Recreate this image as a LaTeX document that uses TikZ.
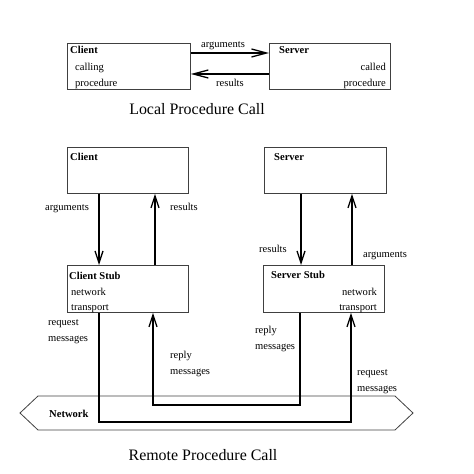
\documentclass[tikz,border=0pt]{standalone}
\usepackage{fontspec}
\setmainfont{Liberation Serif}
\usetikzlibrary{arrows.meta}
\begin{document}
\begin{tikzpicture}[x=1bp,y=-1bp,
  box/.style={draw=black!75, line width=0.8bp, inner sep=0, anchor=north west},
  arr/.style={line width=1.3bp, -{Straight Barb[length=12bp,width=8bp,line width=1.3bp]}},
  larr/.style={line width=1.3bp, -{Straight Barb[length=15bp,width=8bp,line width=1.3bp]}},
  lbl/.style={font=\fontsize{10.6}{12}\selectfont, inner sep=0},
  bl/.style={font=\fontsize{10.6}{12}\selectfont\bfseries, inner sep=0},
  captiontext/.style={font=\fontsize{16}{19}\selectfont, inner sep=0}]
\useasboundingbox (0,0) rectangle (474,474);
% ---------- Local procedure call ----------
\node[box, minimum width=123bp, minimum height=46bp] (lc) at (67,43) {};
\node[box, minimum width=121bp, minimum height=46bp] (ls) at (269,43) {};
\node[bl, anchor=base west] (lct) at (70,54) {Client};
\node[lbl, anchor=base west] (lc1) at (75,71) {calling};
\node[lbl, anchor=base west] (lc2) at (75,87) {procedure};
\node[bl, anchor=base west] (lst) at (279,54) {Server};
\node[lbl, anchor=base east] (ls1) at (386,71) {called};
\node[lbl, anchor=base east] (ls2) at (386,87) {procedure};
\coordinate (la) at (0,53);
\coordinate (lr) at (0,74);
\draw[larr] (lc.east |- la) -- (ls.west |- la);
\draw[larr] (ls.west |- lr) -- (lc.east |- lr);
\node[lbl, anchor=base] (lat) at (223,48) {arguments};
\node[lbl, anchor=base] (lrt) at (230,87) {results};
\node[captiontext, anchor=base] (lcap) at (197,115) {Local Procedure Call};
% ---------- Remote procedure call ----------
\node[box, minimum width=121bp, minimum height=46bp] (rc) at (67,147) {};
\node[box, minimum width=122bp, minimum height=46bp] (rs) at (264,147) {};
\node[box, minimum width=121bp, minimum height=47bp] (cs) at (67,265) {};
\node[box, minimum width=121bp, minimum height=47bp] (ss) at (263,265) {};
\node[bl, anchor=base west] (rct) at (70,161) {Client};
\node[bl, anchor=base west] (rst) at (274,161) {Server};
\node[bl, anchor=base west] (cst) at (69,279) {Client Stub};
\node[lbl, anchor=base west] (cs1) at (71,295) {network};
\node[lbl, anchor=base west] (cs2) at (71,310) {transport};
\node[bl, anchor=base west] (sst) at (271,278) {Server Stub};
\node[lbl, anchor=base east] (ss1) at (377,295) {network};
\node[lbl, anchor=base east] (ss2) at (377,310) {transport};
% client side vertical arrows
\coordinate (ca) at (99,0);
\coordinate (cr) at (155,0);
\draw[arr] (rc.south -| ca) -- (cs.north -| ca);
\draw[arr] (cs.north -| cr) -- (rc.south -| cr);
\node[lbl, anchor=base] (cat) at (67,211) {arguments};
\node[lbl, anchor=base] (crt) at (184,211) {results};
% server side vertical arrows
\coordinate (sr) at (301,0);
\coordinate (sa) at (352,0);
\draw[arr] (rs.south -| sr) -- (ss.north -| sr);
\draw[arr] (ss.north -| sa) -- (rs.south -| sa);
\node[lbl, anchor=base] (srt) at (273,252) {results};
\node[lbl, anchor=base] (sat) at (385,257) {arguments};
% network
\draw[draw=black!75, line width=0.8bp] (20,413) -- (38,396) -- (395,396) -- (413,413) -- (395,430) -- (38,430) -- cycle;
\node[bl, anchor=base west] (net) at (49,417) {Network};
% messages
\coordinate (reqL) at (99,422);
\coordinate (reqR) at (351,422);
\coordinate (repR) at (300,405);
\coordinate (repL) at (153,405);
\draw[arr] (cs.south -| reqL) -- (reqL) -- (reqR) -- (ss.south -| reqR);
\draw[arr] (ss.south -| repR) -- (repR) -- (repL) -- (cs.south -| repL);
\node[lbl, anchor=base west] (m1a) at (48,325) {request};
\node[lbl, anchor=base west] (m1b) at (48,341) {messages};
\node[lbl, anchor=base west] (m2a) at (170,358) {reply};
\node[lbl, anchor=base west] (m2b) at (170,374) {messages};
\node[lbl, anchor=base west] (m3a) at (255,333) {reply};
\node[lbl, anchor=base west] (m3b) at (255,349) {messages};
\node[lbl, anchor=base west] (m4a) at (357,375) {request};
\node[lbl, anchor=base west] (m4b) at (357,391) {messages};
\node[captiontext, anchor=base] (rcap) at (203,460) {Remote Procedure Call};
\end{tikzpicture}
\end{document}
